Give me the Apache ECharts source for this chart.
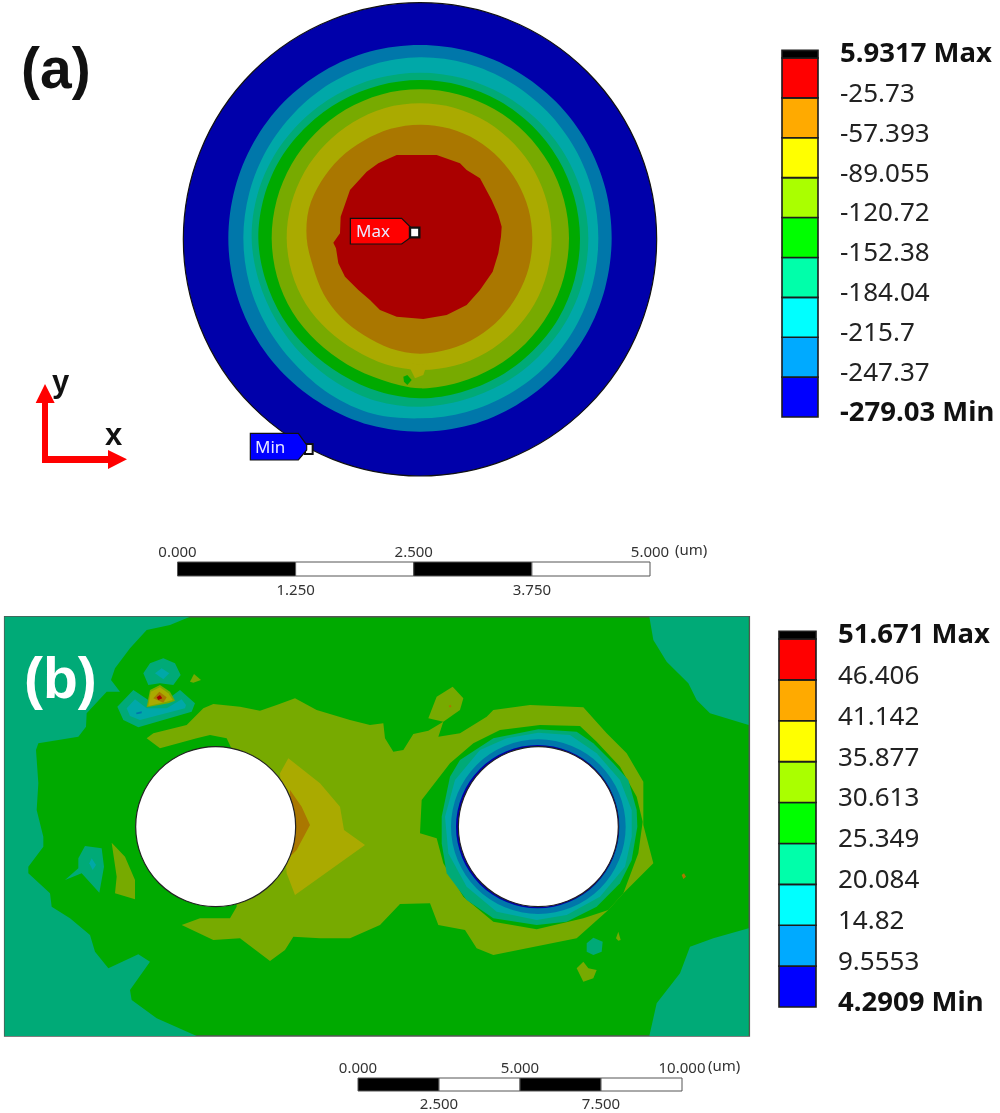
<!DOCTYPE html>
<html><head><meta charset="utf-8">
<script src="https://cdn.jsdelivr.net/npm/echarts@6/dist/echarts.min.js"></script>
<style>html,body{margin:0;padding:0;background:#fff}#c{width:1000px;height:1113px}</style>
</head><body><div id="c"></div>
<script>
// ---- colour scale (legend = bright, contour = shaded)
const legendColors = ['#0000ff','#00aaff','#00ffff','#00ffaa','#00ff00','#aaff00','#ffff00','#ffaa00','#ff0000'];
const shade = {navy:'#0000aa',steel:'#0077aa',cyan:'#00a8a8',teal:'#00aa77',green:'#00aa00',olive:'#77aa00',mustard:'#aaaa00',brown:'#aa7700',red:'#aa0000'};

// ---- legend tick labels, bottom to top
const ticksA = ['-279.03 Min','-247.37','-215.7','-184.04','-152.38','-120.72','-89.055','-57.393','-25.73','5.9317 Max'];
const ticksB = ['4.2909 Min','9.5553','14.82','20.084','25.349','30.613','35.877','41.142','46.406','51.671 Max'];

// ---- scale bars
const scaleATop = ['0.000','2.500','5.000'];
const scaleABottom = ['1.250','3.750'];
const scaleBTop = ['0.000','5.000','10.000'];
const scaleBBottom = ['2.500','7.500'];

// ---- panel (a): contour radii every 15 deg, clockwise from east
const ringSteel  = [575,575,576,577,578,580,580,580,578,577,576,575,575,575,576,578,579,580,580,580,579,578,577,576];
const ringCyan   = [535,536,537,538,538,539,540,545,540,532,530,530,530,530,531,533,537,540,543,543,541,539,537,536];
const ringTeal   = [505,505,504,502,502,502,505,505,500,497,497,500,505,505,503,500,498,497,497,497,498,500,502,504];
const ringGreen  = [480,480,480,478,478,478,480,476,472,472,476,480,485,484,482,478,476,475,475,475,476,477,478,479];
const ringOlive  = [447,447,447,447,447,448,450,440,437,438,442,444,445,445,445,445,446,447,447,447,447,447,447,447];
const ringMustard= [395,395,396,396,396,396,395,392,388,390,395,398,400,400,400,400,402,405,405,405,403,400,398,396];
const ringBrown  = [337,338,338,340,342,344,346,342,336,335,334,332,340,345,342,340,338,340,341,341,340,338,337,337];
const contourRed = [[680,465],[800,465],[870,490],[890,510],[930,535],[965,600],[985,645],[995,680],[993,710],[985,760],[968,815],[930,870],[890,915],[830,945],[760,957],[680,950],[630,930],[600,900],[565,870],[525,830],[505,790],[498,745],[490,728],[510,700],[512,650],[540,570],[590,515],[625,490]];
const patchMustard = [[715,1090],[720,1105],[735,1135],[760,1125],[770,1095]];
const patchGreenDot = [[700,1130],[712,1125],[725,1140],[712,1155],[702,1145]];
const flagMax = [[541,655],[695,655],[725,685],[725,710],[695,732],[541,732]];
const flagMaxTip = [[720,683],[748,683],[748,712],[720,712]];
const flagMin = [[241,1300],[385,1300],[410,1335],[410,1350],[385,1380],[241,1380]];
const flagMinTip = [[405,1332],[428,1332],[428,1362],[405,1362]];
const triadY = [[-384,1389],[-384,1209],[-403,1209],[-375,1152],[-346,1209],[-366,1209],[-366,1389]];
const triadX = [[-384,1368],[-186,1368],[-186,1350],[-129,1378],[-186,1407],[-186,1389],[-384,1389]];

// ---- panel (b): contour outlines
const tealLeft = [[14,20],[570,20],[510,45],[440,60],[390,115],[345,175],[333,210],[360,245],[320,245],[260,310],[258,350],[235,380],[115,400],[108,420],[115,520],[110,600],[130,680],[130,710],[85,770],[85,790],[150,850],[155,890],[210,925],[270,975],[285,1025],[325,1075],[415,1033],[450,1055],[390,1140],[395,1170],[470,1225],[590,1278],[14,1278]];
const tealTopRight = [[1948,20],[1960,90],[2000,155],[2065,220],[2090,270],[2130,310],[2246,345],[2246,20]];
const tealBottomRight = [[2246,955],[2140,985],[2070,1010],[2040,1090],[1970,1180],[1948,1278],[2246,1278]];
const oliveMain = [[440,385],[460,370],[560,345],[610,295],[640,282],[720,290],[780,302],[830,285],[885,265],[950,300],[1050,330],[1110,345],[1150,340],[1155,385],[1180,425],[1210,420],[1240,372],[1285,362],[1330,335],[1315,380],[1380,370],[1460,320],[1480,300],[1590,285],[1750,292],[1820,370],[1880,430],[1930,515],[1930,630],[1930,645],[1960,760],[1870,850],[1825,900],[1730,985],[1480,1035],[1430,1015],[1395,960],[1315,945],[1290,880],[1200,882],[1140,945],[1050,985],[960,985],[880,980],[855,1020],[810,1053],[720,985],[640,990],[545,945],[600,925],[690,925],[710,890],[692,410],[680,385],[630,375],[590,385],[480,415]];
const oliveBlob = [[1285,325],[1310,260],[1358,230],[1390,265],[1380,300],[1330,335]];
const oliveLeft = [[335,698],[375,740],[405,810],[405,868],[345,850],[350,800]];
const oliveDotA = [[570,215],[582,192],[603,210],[580,218]];
const oliveDotB = [[1730,1075],[1750,1055],[1765,1075],[1790,1080],[1780,1105],[1750,1115]];
const oliveDotC = [[1848,985],[1855,965],[1862,990],[1855,992]];
const orangeDotA = [[2045,795],[2052,790],[2058,800],[2050,807]];
const orangeDotB = [[1346,288],[1351,284],[1355,289],[1350,293]];
const mustardRight = [[865,445],[960,520],[1020,590],[1032,660],[1095,705],[885,855],[860,790],[850,660],[840,490]];
const brownRight = [[870,540],[905,590],[930,645],[890,720],[860,750],[870,640]];
const greenAroundHole = [[1420,400],[1350,460],[1265,570],[1260,670],[1310,685],[1330,760],[1390,860],[1480,935],[1610,958],[1750,925],[1825,900],[1870,850],[1915,730],[1928,635],[1910,560],[1860,470],[1790,395],[1740,348],[1620,345],[1500,360]];
const tealAroundHole = [[1615,358],[1730,365],[1780,400],[1840,460],[1885,510],[1910,600],[1912,650],[1895,750],[1860,820],[1790,890],[1700,935],[1610,945],[1480,925],[1400,870],[1340,790],[1325,700],[1325,620],[1350,500],[1380,450],[1480,385]];
const cyanAroundHole = [[1615,368],[1710,375],[1790,430],[1860,510],[1895,600],[1895,680],[1875,770],[1800,860],[1700,915],[1610,930],[1490,905],[1400,830],[1345,730],[1335,620],[1365,510],[1440,420],[1520,385]];
const spotTealUpper = [[430,190],[450,160],[490,145],[525,160],[542,195],[520,225],[480,220],[445,225]];
const spotCyanUpper = [[465,190],[485,175],[508,190],[490,208]];
const spotTealLower = [[352,290],[400,240],[445,270],[500,270],[540,240],[585,280],[575,305],[415,352],[370,330]];
const spotCyanLower = [[380,295],[405,268],[440,295],[500,295],[545,268],[558,285],[555,295],[420,330],[390,318]];
const spotSteelLower = [[408,308],[425,304],[425,310],[410,313]];
const spotOlive = [[440,292],[450,240],[480,225],[510,245],[525,272],[505,280]];
const spotMustard = [[445,288],[452,245],[480,232],[505,250],[518,270],[500,275]];
const spotBrown = [[460,265],[478,245],[500,262],[490,278]];
const spotRed = [[470,262],[480,255],[487,265],[475,270]];
const spotTealMid = [[235,745],[255,708],[305,715],[312,770],[298,848],[245,790],[195,810],[235,775]];
const spotCyanMid = [[268,760],[275,745],[288,765],[278,780]];
const spotTealEast = [[1760,1000],[1780,983],[1808,995],[1805,1025],[1780,1035],[1760,1025]];

// ---- assemble layers in data space
const A = [
  {circle:[750,718,710],fill:shade.navy,stroke:'#111',lw:1.2},
  {ring:ringSteel,fill:shade.steel},{ring:ringCyan,fill:shade.cyan},{ring:ringTeal,fill:shade.teal},
  {ring:ringGreen,fill:shade.green},{ring:ringOlive,fill:shade.olive},{ring:ringMustard,fill:shade.mustard},
  {poly:patchMustard,fill:shade.mustard},{poly:patchGreenDot,fill:shade.green},
  {ring:ringBrown,fill:shade.brown},{poly:contourRed,fill:shade.red},
  {poly:flagMax,fill:'#ff0000',stroke:'#111',lw:1.2},{poly:flagMaxTip,fill:'#fff',stroke:'#111',lw:2.4},
  {poly:flagMinTip,fill:'#fff',stroke:'#111',lw:2},{poly:flagMin,fill:'#0000ff',stroke:'#111',lw:1.2},
  {text:'Max',at:[558,695]},{text:'Min',at:[255,1345]},
  {poly:triadY,fill:'#ff0000'},{poly:triadX,fill:'#ff0000'}
];
const B = [
  {poly:[[14,20],[2248,20],[2248,1278],[14,1278]],fill:shade.green,stroke:'#555',lw:1.5},
  {poly:tealLeft,fill:shade.teal},{poly:tealTopRight,fill:shade.teal},{poly:tealBottomRight,fill:shade.teal},
  {poly:oliveMain,fill:shade.olive},{poly:oliveBlob,fill:shade.olive},{poly:oliveLeft,fill:shade.olive},
  {poly:oliveDotA,fill:shade.olive},{poly:oliveDotB,fill:shade.olive},{poly:oliveDotC,fill:shade.olive},
  {poly:orangeDotA,fill:shade.brown},{poly:orangeDotB,fill:shade.brown},
  {poly:mustardRight,fill:shade.mustard},{poly:brownRight,fill:shade.brown},
  {poly:greenAroundHole,fill:shade.green},{poly:tealAroundHole,fill:shade.teal},{poly:cyanAroundHole,fill:shade.cyan},
  {circle:[1615,650,262],fill:shade.steel},{circle:[1613,650,245],fill:shade.navy},
  {poly:spotTealUpper,fill:shade.teal},{poly:spotCyanUpper,fill:shade.cyan},
  {poly:spotTealLower,fill:shade.teal},{poly:spotCyanLower,fill:shade.cyan},{poly:spotSteelLower,fill:shade.steel},
  {poly:spotOlive,fill:shade.olive},{poly:spotMustard,fill:shade.mustard},{poly:spotBrown,fill:shade.brown},{poly:spotRed,fill:shade.red},
  {poly:spotTealMid,fill:shade.teal},{poly:spotCyanMid,fill:shade.cyan},{poly:spotTealEast,fill:shade.teal},
  {circle:[647,650,240],fill:'#fff',stroke:'#222',lw:1.2},{circle:[1615,650,240],fill:'#fff',stroke:'#222',lw:1.2}
];
const RING_CENTER=[750,715];

function contourSeries(layers,idx){
  return {type:'custom',xAxisIndex:idx,yAxisIndex:idx,silent:true,
    data:layers.map((l,i)=>[i,0]),
    renderItem:(params,api)=>{
      const l=layers[params.dataIndex];
      const style={fill:l.fill,stroke:l.stroke||null,lineWidth:l.lw||0};
      if(l.text){const p=api.coord(l.at);
        return {type:'text',x:p[0],y:p[1],style:{text:l.text,fill:'#e8e8ff',font:'17px "Noto Sans"',textAlign:'left',textVerticalAlign:'middle'}};}
      if(l.circle){const p=api.coord([l.circle[0],l.circle[1]]);const s=api.size([l.circle[2],l.circle[2]]);
        return {type:'circle',shape:{cx:p[0],cy:p[1],r:s[0]},style};}
      let pts;
      if(l.ring){pts=l.ring.map((r,k)=>{const a=k*Math.PI/12;return api.coord([RING_CENTER[0]+r*Math.cos(a),RING_CENTER[1]+r*Math.sin(a)]);});
        return {type:'polygon',shape:{points:pts,smooth:.33},style};}
      pts=l.poly.map(p=>api.coord(p));
      return {type:'polygon',shape:{points:pts,smooth:l.smooth||0},style};
    }};
}
function legendSeries(idx){
  const data=legendColors.map((c,i)=>[i,i+1]).concat([[9,9.19]]);
  return {type:'custom',xAxisIndex:idx,yAxisIndex:idx,silent:true,clip:false,data,
    encode:{y:[0,1]},
    renderItem:(params,api)=>{
      const lo=api.value(0),hi=api.value(1);
      const a=api.coord([0,hi]),b=api.coord([1,lo]);
      return {type:'rect',shape:{x:a[0],y:a[1],width:b[0]-a[0],height:b[1]-a[1]},
        style:{fill:legendColors[lo]||'#000',stroke:'#1c1c1c',lineWidth:1.6}};
    }};
}
function scaleSeries(idx,step){
  const data=[0,1,2,3].map(i=>[i*step,(i+1)*step,i%2]);
  return {type:'custom',xAxisIndex:idx,yAxisIndex:idx,silent:true,data,
    encode:{x:[0,1]},
    renderItem:(params,api)=>{
      const a=api.coord([api.value(0),1]),b=api.coord([api.value(1),0]);
      return {type:'rect',shape:{x:a[0],y:a[1],width:b[0]-a[0],height:b[1]-a[1]},
        style:{fill:api.value(2)?'#fff':'#000',stroke:'#555',lineWidth:1}};
    }};
}

const hidden=(g,min,max,inv)=>({type:'value',show:false,gridIndex:g,min,max,inverse:!!inv,splitLine:{show:false}});
const legendY=(g,ticks)=>({type:'value',gridIndex:g,position:'right',min:0,max:9,interval:1,
  axisLine:{show:false},axisTick:{show:false},splitLine:{show:false},
  axisLabel:{show:true,margin:22,align:'left',padding:[0,0,7,0],color:'#222',fontFamily:'"Noto Sans"',fontSize:26,
    showMinLabel:true,showMaxLabel:true,hideOverlap:false,
    formatter:v=>{const t=ticks[v];return (v===0||v===9)?'{b|'+t+'}':t;},
    rich:{b:{fontFamily:'"Noto Sans"',fontSize:27.5,fontWeight:'bold',color:'#111'}}}});
const scaleX=(g,pos,max,interval,fmt,margin)=>({type:'value',gridIndex:g,position:pos,min:0,max,interval,
  axisLine:{show:false},axisTick:{show:false},splitLine:{show:false},
  axisLabel:{show:true,margin,color:'#333',fontFamily:'"Noto Sans"',fontSize:15,showMinLabel:true,showMaxLabel:true,hideOverlap:false,formatter:fmt}});

const xAxes=[hidden(0,-510,1590),hidden(1,0,2280),hidden(2,0,1),hidden(3,0,1),
  scaleX(4,'top',5,2.5,v=>scaleATop[Math.round(v/2.5)],2),
  scaleX(5,'top',10,5,v=>scaleBTop[Math.round(v/5)],2),
  scaleX(4,'bottom',5,1.25,v=>{const k=Math.round(v/1.25);return k%2?scaleABottom[(k-1)/2]:'';},7),
  scaleX(5,'bottom',10,2.5,v=>{const k=Math.round(v/2.5);return k%2?scaleBBottom[(k-1)/2]:'';},6)];
const yAxes=[hidden(0,0,1470,true),hidden(1,0,1290,true),legendY(2,ticksA),legendY(3,ticksB),hidden(4,0,1),hidden(5,0,1)];

const txt=(x,y,text,font,fill)=>({type:'text',x,y,z:100,silent:true,style:{text,font,fill}});
const option={animation:false,backgroundColor:'#fff',
  grid:[
    {left:0,top:0,width:700,height:490},
    {left:0,top:610,width:760,height:430},
    {left:782,top:58,width:36,height:359},
    {left:779,top:639,width:37,height:368},
    {left:177.5,top:562,width:472.5,height:14},
    {left:358,top:1078,width:324,height:13}
  ],
  xAxis:xAxes,yAxis:yAxes,
  series:[contourSeries(A,0),contourSeries(B,1),legendSeries(2),legendSeries(3),scaleSeries(4,1.25),scaleSeries(5,2.5)],
  graphic:[
    txt(21,44,'(a)','bold 57px "Liberation Sans"','#111'),
    txt(24,654,'(b)','bold 57px "Liberation Sans"','#fff'),
    txt(52,368,'y','bold 31px "Liberation Sans"','#111'),
    txt(105,421,'x','bold 31px "Liberation Sans"','#111'),
    txt(675,543,'(um)','15px "Noto Sans"','#333'),
    txt(708,1059,'(um)','15px "Noto Sans"','#333')
  ]};
const chart=echarts.init(document.getElementById('c'),null,{renderer:'canvas'});
chart.setOption(option);
</script></body></html>
